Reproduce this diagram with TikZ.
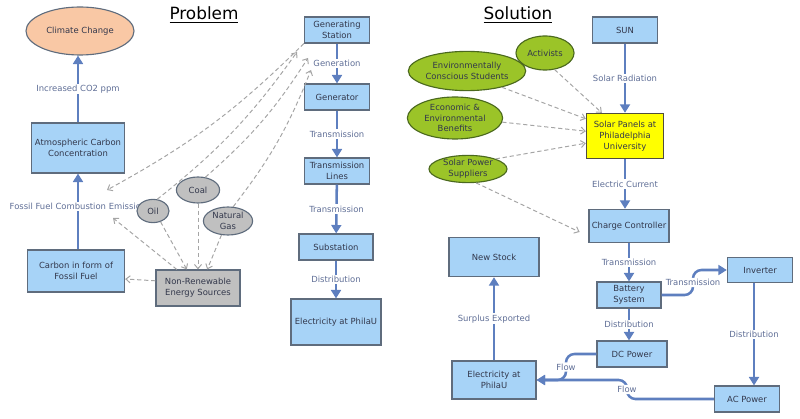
\documentclass[tikz,border=0pt]{standalone}
\usepackage{fontspec}
\setmainfont{DejaVu Sans}
\usetikzlibrary{shapes.geometric,arrows.meta,backgrounds}
\definecolor{boxblue}{RGB}{167,211,247}
\definecolor{boxline}{RGB}{95,108,125}
\definecolor{boxtext}{RGB}{50,55,75}
\definecolor{flowblue}{RGB}{94,127,191}
\definecolor{lbltext}{RGB}{95,110,150}
\definecolor{hintgray}{RGB}{165,165,165}
\definecolor{salmon}{RGB}{249,200,165}
\definecolor{stonegray}{RGB}{192,192,192}
\definecolor{leafgreen}{RGB}{155,196,40}
\definecolor{leafline}{RGB}{75,105,30}
\definecolor{panelyellow}{RGB}{255,255,0}
\tikzset{
  box/.style={draw=boxline, fill=boxblue, line width=0.8pt, align=center,
    text=boxtext, font=\fontsize{6}{7.6}\selectfont, inner sep=1pt},
  blob/.style={ellipse, draw=boxline, line width=0.8pt, align=center,
    text=boxtext, font=\fontsize{6}{7.6}\selectfont, inner sep=0pt},
  flow/.style={draw=flowblue, line width=1.8pt, -{Triangle[width=7pt,length=6pt]}},
  hint/.style={draw=hintgray, line width=0.7pt, dash pattern=on 3pt off 2pt,
    -{Straight Barb[length=3pt,width=5pt]}},
  lbl/.style={fill=white, text=lbltext, font=\fontsize{6}{7}\selectfont, inner sep=1pt}
}

\begin{document}
\begin{tikzpicture}[x=0.025cm, y=-0.025cm]
\useasboundingbox (0,0) rectangle (800,419);

\node[font=\fontsize{12}{14}\selectfont] (problem) at (204,15) {\underline{Problem}};
\node[font=\fontsize{12}{14}\selectfont] (solution) at (518,15) {\underline{Solution}};

\node[blob, fill=salmon, minimum width=2.7cm, minimum height=1.2cm] (climate) at (80,31) {Climate Change};
\node[box, minimum width=2.33cm, minimum height=1.25cm] (atmos) at (78,148) {Atmospheric Carbon\\Concentration};
\node[box, minimum width=2.43cm, minimum height=1.05cm] (carbon) at (76,271) {Carbon in form of\\Fossil Fuel};
\node[box, fill=stonegray, minimum width=2.1cm, minimum height=0.9cm] (nonren) at (198,288) {Non-Renewable\\Energy Sources};
\node[blob, fill=stonegray, minimum width=0.8cm, minimum height=0.58cm] (oil) at (153,211) {Oil};
\node[blob, fill=stonegray, minimum width=1.08cm, minimum height=0.65cm] (coal) at (198,190) {Coal};
\node[blob, fill=stonegray, minimum width=1.23cm, minimum height=0.7cm] (gas) at (228,221) {Natural\\Gas};

\node[box, minimum width=1.63cm, minimum height=0.65cm] (genstat) at (337,30) {Generating\\Station};
\node[box, minimum width=1.63cm, minimum height=0.65cm] (generator) at (337,97) {Generator};
\node[box, minimum width=1.63cm, minimum height=0.65cm] (tlines) at (337,171) {Transmission\\Lines};
\node[box, minimum width=1.85cm, minimum height=0.65cm] (substation) at (336,247) {Substation};
\node[box, minimum width=2.25cm, minimum height=1.15cm] (elecleft) at (336,322) {Electricity at PhilaU};

\coordinate (fossilhint) at (113,218);
\coordinate (stationhint) at (107,190);
\coordinate (oilhint) at (297,52);
\coordinate (coalhint) at (308,58);
\coordinate (gashint) at (311,70);

\draw[flow] (atmos.north) -- node[lbl] {Increased CO2 ppm} (atmos.north |- climate.south);
\begin{pgfonlayer}{background}
\draw[flow] (carbon.north -| atmos.south) -- node[lbl, pos=0.57] {Fossil Fuel Combustion Emission} (atmos.south);
\end{pgfonlayer}
\draw[flow] (genstat) -- node[lbl] {Generation} (generator);
\draw[flow] (generator) -- node[lbl] {Transmission} (tlines);
\draw[flow] (tlines) -- node[lbl] {Transmission} (substation);
\draw[flow] (substation) -- node[lbl] {Distribution} (elecleft);

\draw[hint] ([yshift=0.18cm]nonren.west) -- ([yshift=-0.2cm]carbon.east);
\draw[hint] ([xshift=-0.53cm]nonren.north) -- (fossilhint);
\draw[hint] (oil.-55) -- ([xshift=-0.28cm]nonren.north);
\draw[hint] (coal.south) -- (nonren.north);
\draw[hint] (gas.-115) -- ([xshift=0.23cm]nonren.north);
\draw[hint] (genstat.south west) to[bend left=8] (stationhint);
\draw[hint] (oil.70) to[bend right=8] (oilhint);
\draw[hint] (coal.60) to[bend right=8] (coalhint);
\draw[hint] (gas.70) to[bend right=8] (gashint);

\node[box, minimum width=1.63cm, minimum height=0.65cm] (sun) at (625,30) {SUN};
\node[box, fill=panelyellow, draw=black!65!yellow!60!black, minimum width=1.93cm, minimum height=1.13cm] (panels) at (625,136) {Solar Panels at\\Philadelphia\\University};
\node[box, minimum width=2.0cm, minimum height=0.83cm] (charge) at (629,226) {Charge Controller};
\node[box, minimum width=1.6cm, minimum height=0.65cm] (battery) at (629,295) {Battery\\System};
\node[box, minimum width=1.75cm, minimum height=0.65cm] (dcpower) at (632,354) {DC Power};
\node[box, minimum width=1.63cm, minimum height=0.63cm] (inverter) at (760,270) {Inverter};
\node[box, minimum width=1.63cm, minimum height=0.65cm] (acpower) at (747,399) {AC Power};
\node[box, minimum width=2.25cm, minimum height=0.98cm] (stock) at (494,257) {New Stock};
\node[box, minimum width=2.1cm, minimum height=0.95cm] (elecright) at (494,380) {Electricity at\\PhilaU};

\node[blob, fill=leafgreen, draw=leafline, minimum width=1.45cm, minimum height=0.85cm] (activists) at (545,53) {Activists};
\node[blob, fill=leafgreen, draw=leafline, minimum width=2.48cm, minimum height=0.98cm] (students) at (467,71) {Environmentally\\Conscious Students};
\node[blob, fill=leafgreen, draw=leafline, minimum width=2.38cm, minimum height=1.05cm] (benefits) at (455,118) {Economic \&\\Environmental\\Benefits};
\node[blob, fill=leafgreen, draw=leafline, minimum width=1.95cm, minimum height=0.68cm] (suppliers) at (468,169) {Solar Power\\Suppliers};

\draw[flow] (sun) -- node[lbl] {Solar Radiation} (panels);
\draw[flow] (panels.south) -- node[lbl] {Electric Current} (panels.south |- charge.north);
\draw[flow] (charge.south -| battery.north) -- node[lbl] {Transmission} (battery.north);
\draw[flow] (battery.south) -- node[lbl] {Distribution} (battery.south |- dcpower.north);
\draw[flow, rounded corners=6pt] (battery.east) -- (693,295) -- node[lbl] {Transmission} (693,270) -- (inverter.west);
\draw[flow] ([xshift=-0.15cm]inverter.south) -- node[lbl] {Distribution} ([xshift=-0.15cm]inverter.south |- acpower.north);
\draw[flow] (elecright) -- node[lbl] {Surplus Exported} (stock);
\draw[flow, rounded corners=6pt] (dcpower.west) -- (566,354) -- node[lbl] {Flow} (566,380) -- (elecright.east);
\draw[flow, rounded corners=6pt] (acpower.west) -- (627,399) -- node[lbl] {Flow} (627,380) -- (elecright.east);

\draw[hint] (activists.-60) -- ([xshift=0.4cm]panels.north west);
\draw[hint] (students.-25) -- ([yshift=-0.15cm]panels.north west);
\draw[hint] (benefits.-5) -- ([yshift=0.12cm]panels.west);
\draw[hint] (suppliers.20) -- ([yshift=-0.18cm]panels.west);
\draw[hint] (suppliers.-60) -- ([xshift=-0.22cm,yshift=-0.15cm]charge.west);
\end{tikzpicture}
\end{document}
